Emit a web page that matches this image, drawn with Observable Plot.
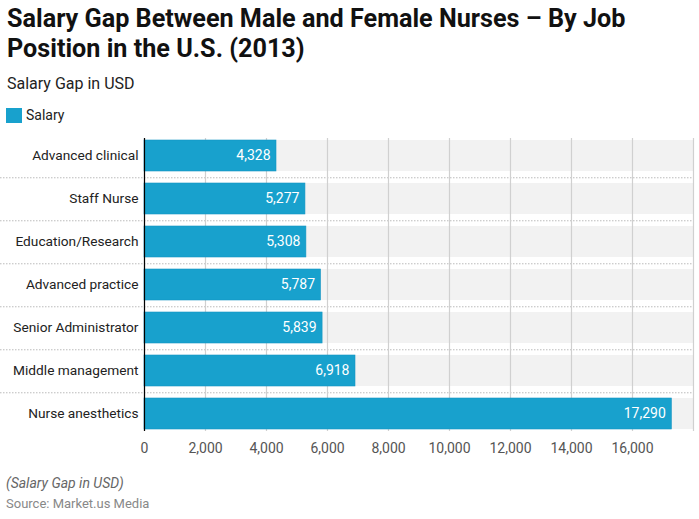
<!DOCTYPE html>
<html>
<head>
<meta charset="utf-8">
<script src="https://cdn.jsdelivr.net/npm/d3@7"></script>
<script src="https://cdn.jsdelivr.net/npm/@observablehq/plot@0.6"></script>
<style>
  html, body { margin: 0; padding: 0; background: #fff; }
  body { width: 699px; height: 519px; position: relative; font-family: Roboto, "Noto Sans", sans-serif; overflow: hidden; }
  .title { position: absolute; left: 7px; top: 4px; width: 660px; font-size: 25.2px; font-weight: 700; line-height: 30px; color: #111; }
  .subtitle { position: absolute; left: 7px; top: 74px; font-size: 16px; color: #222; }
  .legend { position: absolute; left: 6px; top: 107px; display: flex; align-items: center; font-size: 14px; color: #222; }
  .legend .sw { width: 16px; height: 15px; margin-right: 4px; }
  #chart { position: absolute; left: 0; top: 125px; }
  .note { position: absolute; left: 6px; top: 475px; font-size: 14px; font-style: italic; color: #666; }
  .source { position: absolute; left: 6px; top: 496px; font-size: 13px; color: #888; }
</style>
</head>
<body>
<div class="title">Salary Gap Between Male and Female Nurses – By Job Position in the U.S. (2013)</div>
<div class="subtitle">Salary Gap in USD</div>
<div class="legend"><div class="sw" id="sw"></div><span>Salary</span></div>
<div id="chart"></div>
<div class="note">(Salary Gap in USD)</div>
<div class="source">Source: Market.us Media</div>
<script>
const positions = ["Advanced clinical", "Staff Nurse", "Education/Research", "Advanced practice", "Senior Administrator", "Middle management", "Nurse anesthetics"];
const salaryGap = [4328, 5277, 5308, 5787, 5839, 6918, 17290];
const xTicks = [0, 2000, 4000, 6000, 8000, 10000, 12000, 14000, 16000];
const gridTicks = [0, 2000, 4000, 6000, 8000, 10000, 12000, 14000, 16000, 18000];
const xMax = 18000;
const seriesName = "Salary";
const barColor = "#18a1cd";

document.getElementById("sw").style.background = barColor;

const data = positions.map((p, i) => ({position: p, value: salaryGap[i]}));
const separators = positions.slice(0, -1);

const W = 699, H = 340, mTop = 9, mBottom = 30, mLeft = 144, mRight = 6;
const n = positions.length;
const pInner = 0.29, pOuter = 0.1;
const step = (H - mTop - mBottom) / (n - pInner + 2 * pOuter);
const fmt = d3.format(",");

const chart = Plot.plot({
  width: W,
  height: H,
  marginTop: mTop,
  marginBottom: mBottom,
  marginLeft: mLeft,
  marginRight: mRight,
  style: {fontFamily: "Roboto, sans-serif", fontSize: "14px", background: "transparent"},
  x: {domain: [0, xMax], label: null},
  y: {domain: positions, paddingInner: pInner, paddingOuter: pOuter, label: null},
  marks: [
    Plot.barX(positions, {y: d => d, x1: 0, x2: xMax, fill: "#f2f2f2"}),
    Plot.ruleY(separators, {y: d => d, dy: step / 2, stroke: "#bbb", strokeDasharray: "1.5,1.5", insetLeft: -mLeft, insetRight: 0}),
    Plot.ruleX(gridTicks, {x: d => d, stroke: "#d0d0d0", strokeWidth: 1.2, insetTop: 4, insetBottom: 4}),
    Plot.barX(data, {y: "position", x: "value", fill: barColor, stroke: "#1495c2", strokeWidth: 0.6}),
    Plot.ruleX([0], {stroke: "#000", strokeWidth: 1.2, insetTop: 4, insetBottom: 4}),
    Plot.text(data, {y: "position", x: "value", text: d => fmt(d.value), textAnchor: "end", dx: -6, fill: "#fff", fontSize: 14}),
    Plot.axisY({tickSize: 0, tickPadding: 6, fill: "#222", fontSize: 13.7}),
    Plot.axisX({ticks: xTicks, tickFormat: fmt, tickSize: 0, tickPadding: 8, fill: "#555", fontSize: 14})
  ]
});
document.getElementById("chart").appendChild(chart);
</script>
</body>
</html>
